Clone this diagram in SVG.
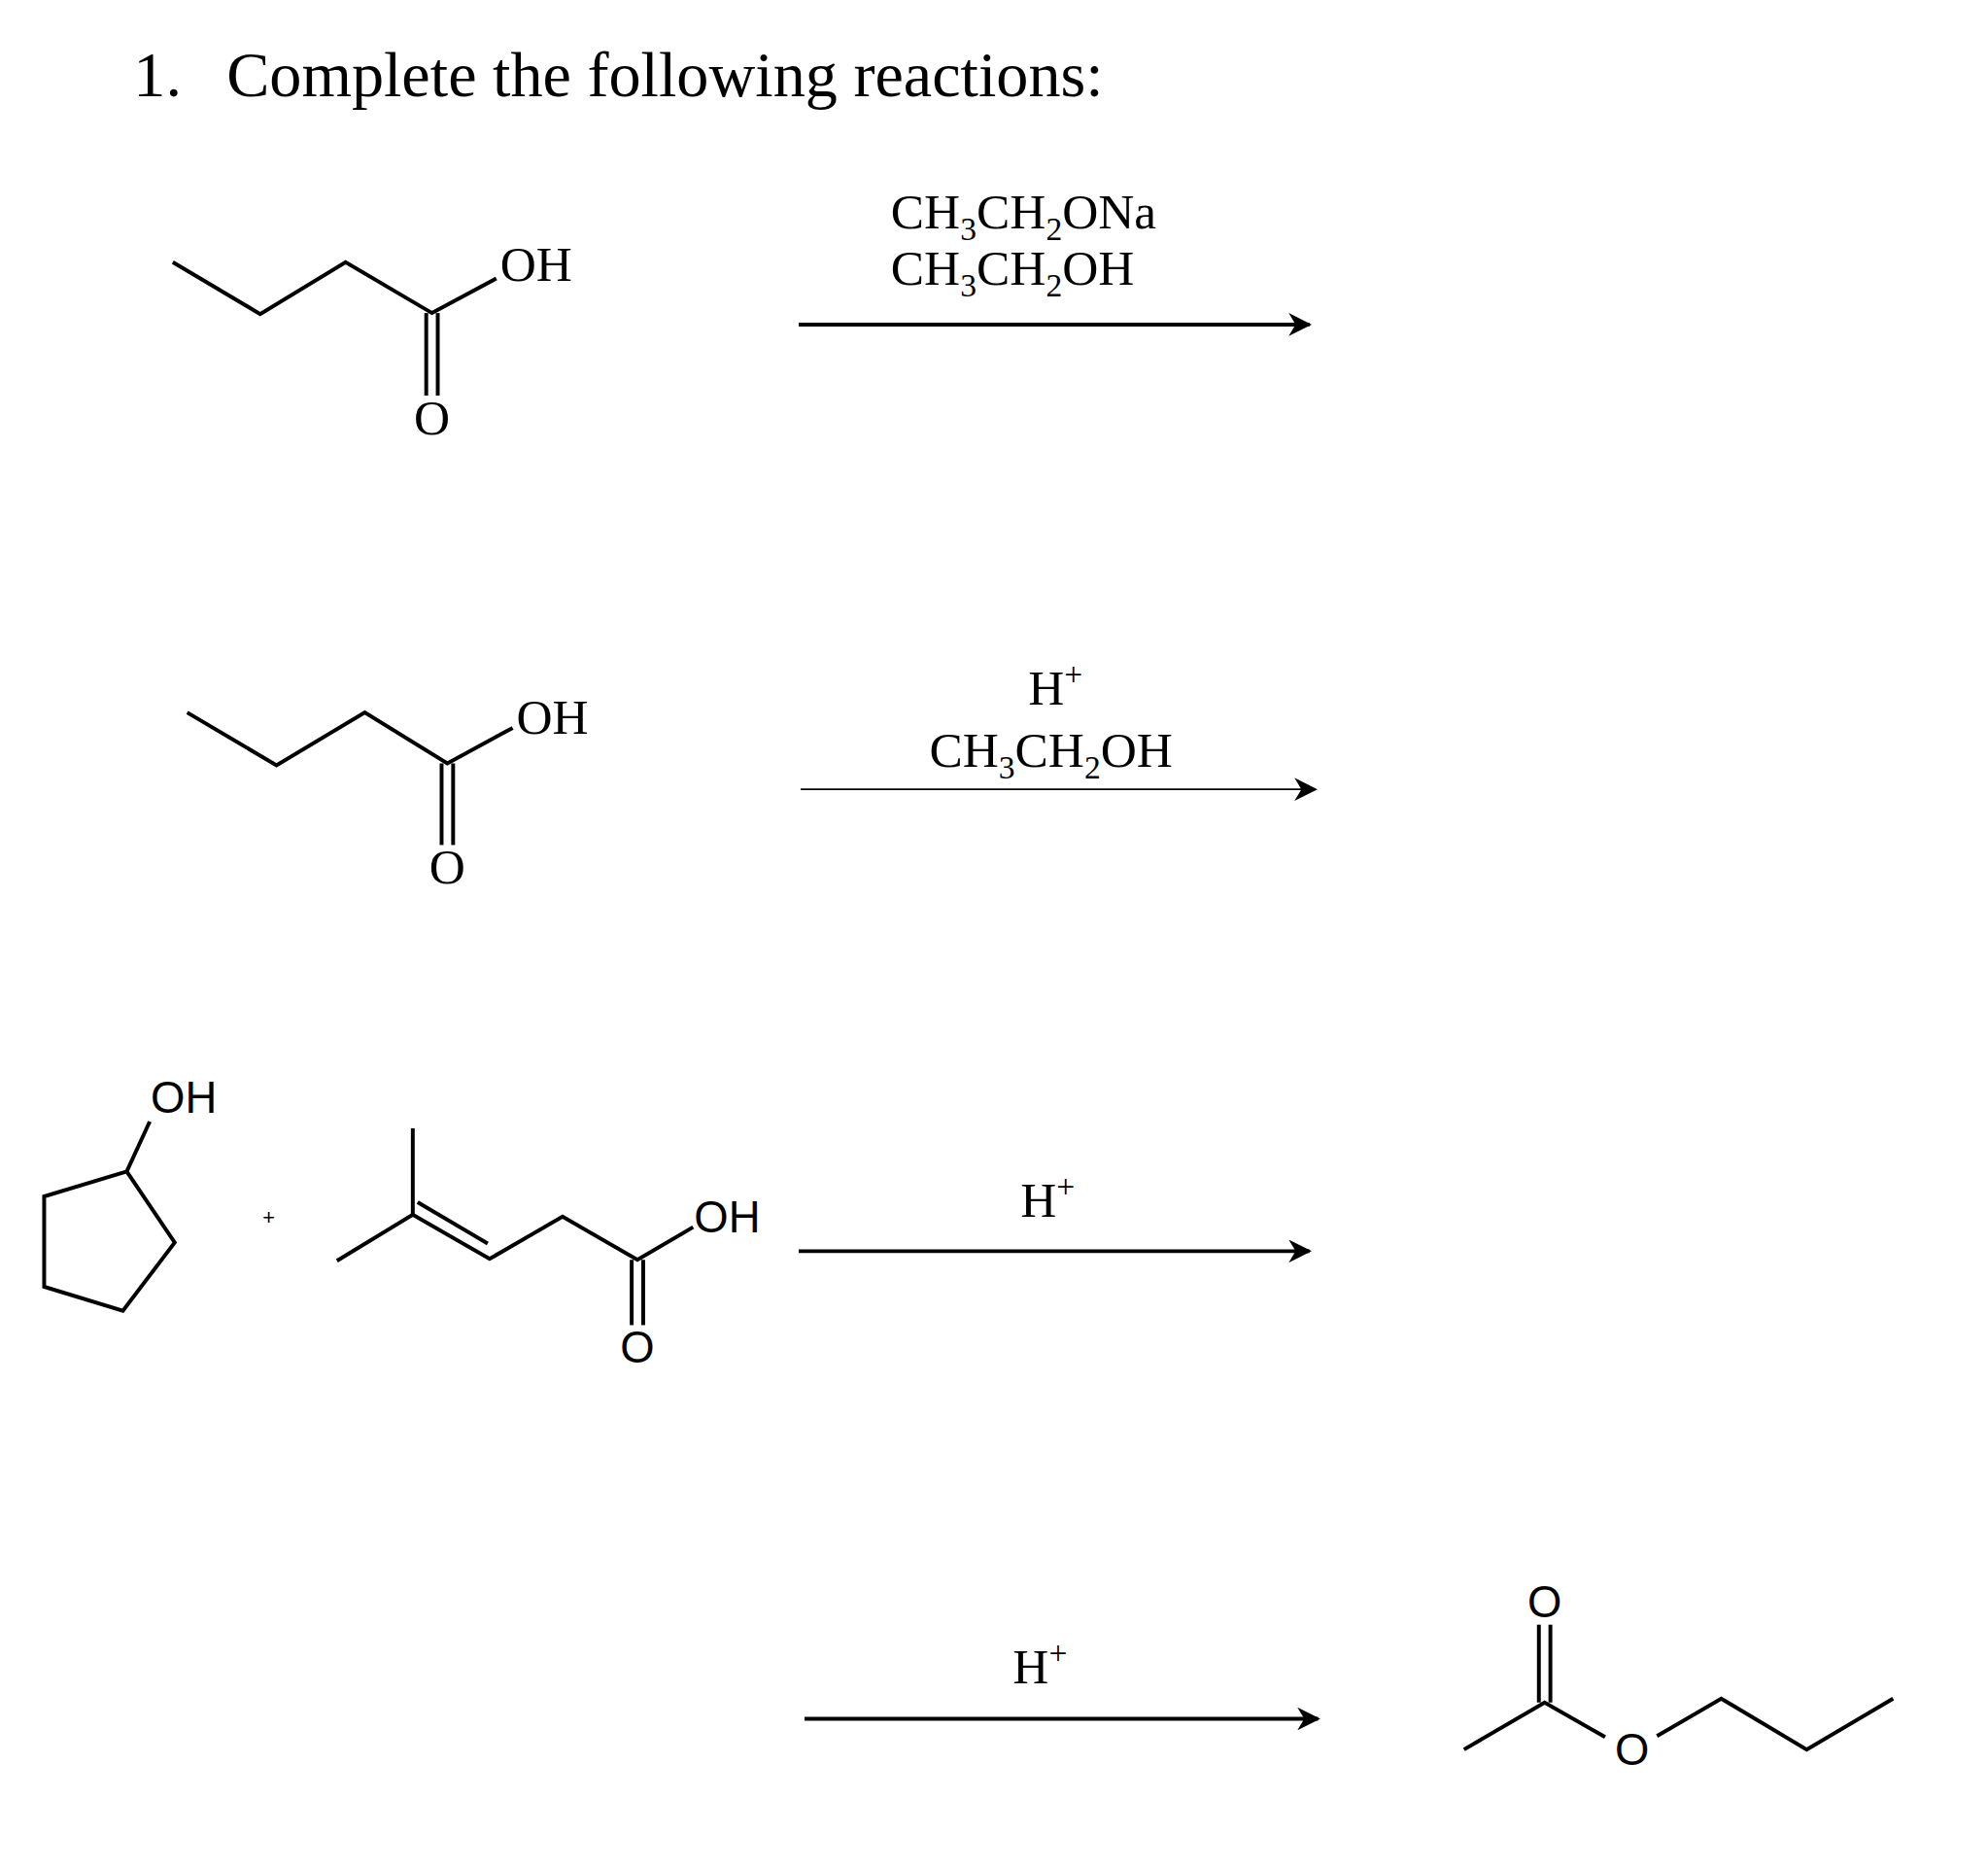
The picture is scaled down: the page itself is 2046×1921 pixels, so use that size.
<svg xmlns="http://www.w3.org/2000/svg" width="2046" height="1921" viewBox="0 0 2046 1921">
<style>
.b{stroke:#000;stroke-width:4;fill:none;stroke-linejoin:miter}
.s{font-family:"Liberation Serif",serif;font-size:52px;fill:#000}
.a{font-family:"Liberation Sans",sans-serif;font-size:46px;fill:#000}
.sub{font-size:34px}
</style>
<defs>
<marker id="ah2" viewBox="0 0 10 10" refX="9" refY="5" markerWidth="40" markerHeight="24" markerUnits="userSpaceOnUse" orient="auto"><path d="M0,0 L10,5 L0,10 L3,5 z" fill="#000"/></marker>
</defs>
<rect width="2046" height="1921" fill="#fff"/>
<g transform="scale(0.988)">
<text x="139" y="100" font-family="Liberation Serif,serif" font-size="67">1.<tspan x="236">Complete the following reactions:</tspan></text>

<g id="acid1">
<polyline class="b" points="180,273 271,327 360,273 450,326 517,290"/>
<line class="b" x1="444" y1="326" x2="444" y2="412"/><line class="b" x1="456" y1="326" x2="456" y2="412"/>
<text class="s" x="450" y="452" text-anchor="middle">O</text>
<text class="s" x="521" y="293">OH</text>
</g>
<g id="acid2">
<polyline class="b" points="195,742 288,797 380,742 466,795 534,758"/>
<line class="b" x1="460" y1="795" x2="460" y2="880"/><line class="b" x1="472" y1="795" x2="472" y2="880"/>
<text class="s" x="466" y="920" text-anchor="middle">O</text>
<text class="s" x="538" y="764">OH</text>
</g>
<g id="cyclopentanol">
<polygon class="b" points="132,1220 46,1246 46,1340 128,1365 182,1294"/>
<line class="b" x1="132" y1="1220" x2="156" y2="1168"/>
<text class="a" x="157" y="1159">OH</text>
</g>
<text x="280" y="1275" font-family="Liberation Sans,sans-serif" font-size="22" text-anchor="middle">+</text>
<g id="acid3">
<line class="b" x1="430" y1="1175" x2="430" y2="1265"/>
<polyline class="b" points="351,1313 430,1265 510,1311 586,1267 664,1312 722,1278"/>
<line class="b" x1="435" y1="1252" x2="508" y2="1295"/>
<line class="b" x1="658" y1="1312" x2="658" y2="1380"/><line class="b" x1="670" y1="1312" x2="670" y2="1380"/>
<text class="a" x="664" y="1419" text-anchor="middle">O</text>
<text class="a" x="723" y="1283">OH</text>
</g>
<g id="ester">
<polyline class="b" points="1525,1822 1609,1773 1672,1809"/>
<polyline class="b" points="1726,1808 1793,1769 1882,1822 1972,1769"/>
<line class="b" x1="1603" y1="1773" x2="1603" y2="1692"/><line class="b" x1="1615" y1="1773" x2="1615" y2="1692"/>
<text class="a" x="1609" y="1684" text-anchor="middle">O</text>
<text class="a" x="1700" y="1838" text-anchor="middle">O</text>
</g>

<g id="connectors">
<line x1="832" y1="338" x2="1364" y2="338" stroke="#000" stroke-width="4" marker-end="url(#ah2)"/>
<line x1="834" y1="822" x2="1370" y2="822" stroke="#000" stroke-width="2" marker-end="url(#ah2)"/>
<line x1="832" y1="1303" x2="1364" y2="1303" stroke="#000" stroke-width="4" marker-end="url(#ah2)"/>
<line x1="838" y1="1790" x2="1373" y2="1790" stroke="#000" stroke-width="4" marker-end="url(#ah2)"/>
</g>
<g id="labels">
<text class="s" x="928" y="238">CH<tspan class="sub" dy="12">3</tspan><tspan dy="-12">CH</tspan><tspan class="sub" dy="12">2</tspan><tspan dy="-12">ONa</tspan></text>
<text class="s" x="928" y="297">CH<tspan class="sub" dy="12">3</tspan><tspan dy="-12">CH</tspan><tspan class="sub" dy="12">2</tspan><tspan dy="-12">OH</tspan></text>
<text class="s" x="1071" y="734">H<tspan class="sub" dy="-20">+</tspan></text>
<text class="s" x="968" y="799">CH<tspan class="sub" dy="12">3</tspan><tspan dy="-12">CH</tspan><tspan class="sub" dy="12">2</tspan><tspan dy="-12">OH</tspan></text>
<text class="s" x="1063" y="1267">H<tspan class="sub" dy="-20">+</tspan></text>
<text class="s" x="1055" y="1753">H<tspan class="sub" dy="-20">+</tspan></text>
</g>
</g>
</svg>
